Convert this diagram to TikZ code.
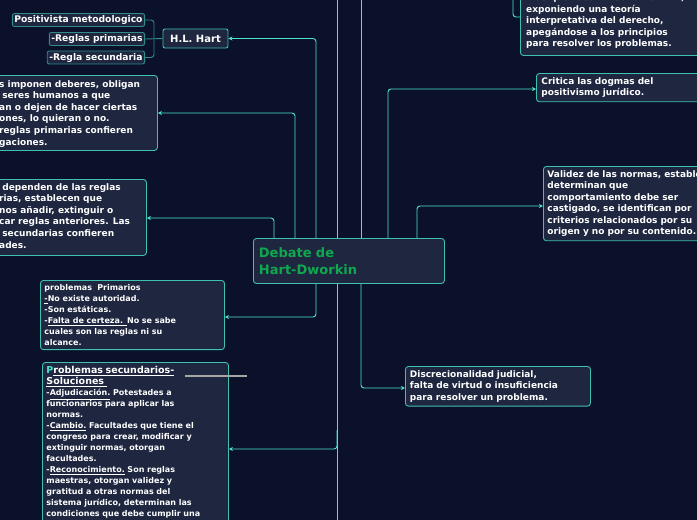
\documentclass[tikz,border=0pt]{standalone}
\usepackage{fontspec}
\setmainfont{DejaVu Sans}
\usetikzlibrary{arrows.meta}
\definecolor{bg}{HTML}{0B1128}
\definecolor{boxf}{HTML}{1E2640}
\definecolor{bord}{HTML}{3FC1B2}
\definecolor{dbord}{HTML}{2F8C88}
\definecolor{conn}{HTML}{4DE3CF}
\definecolor{ttl}{HTML}{0FA84F}
\tikzset{
  box/.style={draw=bord,fill=boxf,line width=0.9pt,rounded corners=3pt,anchor=north west,align=left,inner sep=4pt,text=white,font=\bfseries\fontsize{9}{11.5}\selectfont},
  small/.style={draw=dbord,fill=boxf,line width=0.9pt,rounded corners=2pt,text=white,font=\bfseries\fontsize{9.2}{10}\selectfont,inner sep=2pt},
  cn/.style={draw=conn,line width=0.9pt,rounded corners=3pt,-{Stealth[length=4pt,width=4pt]}},
  cl/.style={draw=conn,line width=0.9pt,rounded corners=3pt},
  ctext/.style={anchor=north west,align=left,text=white,font=\bfseries\fontsize{9}{11.6}\selectfont,inner sep=0pt}
}
\begin{document}
\begin{tikzpicture}[x=1pt,y=-1pt]
\useasboundingbox (0,0) rectangle (697,520);
\clip (0,0) rectangle (697,520);
\fill[bg] (0,0) rectangle (697,520);
% central
\node[box,minimum width=191pt,minimum height=45pt,text width=180pt,inner sep=5pt,font=\bfseries\fontsize{13}{17}\selectfont,text=ttl] (c) at (253,238) {Debate de\\Hart-Dworkin};
% top-left small boxes
\node[small,anchor=east] (p1) at (145,20) {Positivista metodologico};
\node[small,anchor=east] (p2) at (145,39) {-Reglas primarias};
\node[small,anchor=east] (p3) at (145,57.5) {-Regla secundaria};
\node[small,draw=bord,font=\bfseries\fontsize{10}{11}\selectfont,minimum width=65pt,minimum height=19pt] (hart) at (195.5,38.5) {H.L. Hart};
\draw[cl,draw=dbord] (p1.east) -| (154,38.5) |- (p3.east);
\draw[cl,draw=dbord] (p2.east) -- (hart.west);
% left boxes
\node[box,minimum width=197pt,minimum height=75pt] (b1) at (-40,75) {};
\node[ctext] at (-1,80) {s imponen deberes, obligan\\ \ seres humanos a que\\an o dejen de hacer ciertas\\ones, lo quieran o no.\\reglas primarias confieren\\gaciones.};
\node[box,minimum width=186pt,minimum height=76pt] (b2) at (-40,179) {};
\node[ctext] at (-1,183) {\ dependen de las reglas\\rias, establecen que\\nos añadir, extinguir o\\car reglas anteriores. Las\\ \ secundarias confieren\\ades.};
\node[box,text width=176pt,font=\bfseries\fontsize{8}{11}\selectfont] (b3) at (40,280) {problemas\ \ Primarios\\\underline{-}No existe autoridad.\\-Son estáticas.\\-\underline{Falta de certeza. }No se sabe\\cuales son las reglas ni su\\alcance.};
\node[box,text width=178pt,font=\bfseries\fontsize{8}{11}\selectfont] (b4) at (42,362) {{\fontsize{9.5}{12}\selectfont\textcolor{conn}{P}\underline{roblemas secundarios-}\\\underline{Soluciones }}\\-\underline{Adjudicación.} Potestades a\\funcionarios para aplicar las\\normas.\\-\underline{Cambio.} Facultades que tiene el\\congreso para crear, modificar y\\extinguir normas, otorgan\\facultades.\\-\underline{Reconocimiento.} Son reglas\\maestras, otorgan validez y\\gratitud a otras normas del\\sistema jurídico, determinan las\\condiciones que debe cumplir una\\norma};
\draw[gray!70,line width=1.2pt] (185,376) -- (247,376);
% right boxes
\node[box,minimum width=200pt,minimum height=80pt] (t) at (520,-25) {};
\node[ctext] at (526,-7) {mas que toco la teoría de Hart,\\exponiendo una teoría\\interpretativa del derecho,\\apegándose a los principios\\para resolver los problemas.};
\node[box,minimum width=170pt,text width=160pt] (cr) at (536,73) {Critica las dogmas del\\positivismo jurídico.};
\node[box,minimum width=170pt,text width=200pt] (v) at (543,166) {Validez de las normas, establecen,\\determinan que\\comportamiento debe ser\\castigado, se identifican por\\criterios relacionados por su\\origen y no por su contenido.};
\node[box,minimum width=185pt,text width=176pt] (d) at (405,366) {Discrecionalidad judicial,\\falta de virtud o insuficiencia\\para resolver un problema.};
% connectors
\draw[cn] (c.north west -| 274,0) |- (b2.east |- 0,218);
\draw[cn] (c.north west -| 295,0) |- (b1.east |- 0,113);
\draw[cn] (c.north west -| 316,0) |- (hart.east);
\draw[cl] (c.north west -| 337,0) -- (337,-5);
\draw[cl] (c.north west -| 361,0) -- (361,-5);
\draw[cn] (c.north west -| 388,0) |- (cr.west |- 0,89);
\draw[cn] (c.north west -| 417,0) |- (v.west |- 0,206);
\draw[cl] (513,-5) |- (t.west |- 0,17);
\draw[cn] (c.south west -| 316,0) |- (b3.east |- 0,317);
\draw[cl] (c.south west -| 337,0) -- (337,525);
\draw[cn] (337,430) |- (b4.east |- 0,449);
\draw[cn] (c.south west -| 361,0) |- (d.west |- 0,388);
\end{tikzpicture}
\end{document}
